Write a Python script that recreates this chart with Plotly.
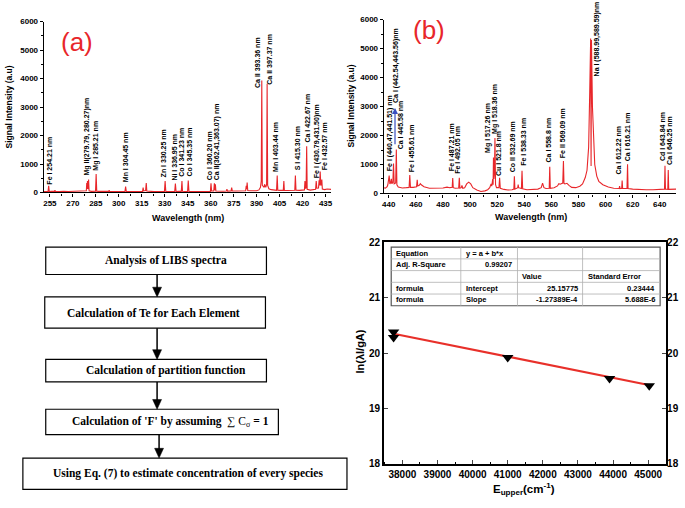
import plotly.graph_objects as go

# ---------------- data ----------------
# Panel (a) LIBS spectrum, 251-438.6 nm
wl_a = [
    251, 252.5, 253.8, 254.21, 254.6, 256, 258.0, 258.3, 258.6, 261,
    263.5, 263.8, 264.1, 267, 270, 273, 275.5, 276, 277.5, 278.8,
    279.08, 279.3, 279.55, 279.8, 280.0, 280.27, 280.6, 282, 284.8, 285.21,
    285.6, 287, 290, 293.4, 293.7, 294.0, 297, 300, 304.0, 304.45,
    304.9, 307, 310, 313, 315.5, 315.89, 316.2, 317.5, 317.93, 318.3,
    320, 323, 326, 329.8, 330.25, 330.7, 333, 336.5, 336.95, 337.4,
    339, 340.8, 341.23, 341.6, 343, 344.9, 345.35, 345.8, 348, 351,
    354, 357, 359.8, 360.2, 360.6, 362.0, 362.41, 362.75, 363.07, 363.4,
    366, 368, 370.2, 370.6, 371.0, 373.3, 373.7, 374.1, 377, 380,
    382.8, 383.2, 383.5, 383.8, 384.2, 386, 388, 390, 391.5, 392.5,
    393.0, 393.36, 393.7, 394.4, 394.9, 395.2, 396.0, 396.5, 396.85, 397.2,
    398, 399.5, 401, 403.0, 403.44, 403.8, 405.5, 407.4, 407.77, 408.1,
    410, 412, 414.9, 415.3, 415.7, 418, 420, 421.2, 421.55, 421.9,
    422.3, 422.67, 423.0, 425, 427, 428.5, 428.9, 429.3, 430.4, 430.79,
    431.1, 431.5, 431.9, 432.2, 432.57, 432.9, 434.5, 436, 438.6]
int_a = [
    30, 35, 30, 235, 30, 40, 40, 75, 40, 35,
    40, 60, 40, 35, 45, 40, 45, 60, 45, 60,
    330, 120, 400, 120, 140, 455, 60, 40, 45, 650,
    45, 40, 35, 40, 80, 40, 35, 30, 35, 205,
    35, 30, 35, 30, 40, 175, 60, 70, 335, 50,
    35, 30, 35, 35, 400, 35, 30, 35, 310, 35,
    40, 40, 400, 40, 35, 40, 420, 40, 35, 30,
    35, 35, 40, 320, 50, 50, 320, 80, 290, 50,
    40, 45, 50, 115, 50, 55, 170, 55, 50, 55,
    60, 230, 120, 345, 70, 60, 55, 60, 90, 180,
    400, 3930, 250, 200, 180, 290, 180, 280, 3815, 250,
    130, 100, 80, 75, 600, 80, 75, 75, 400, 75,
    70, 75, 80, 600, 80, 75, 80, 90, 400, 150,
    160, 1620, 110, 85, 85, 110, 400, 150, 160, 430,
    250, 740, 250, 280, 455, 120, 100, 120, 110]

# Panel (b) LIBS spectrum, 436.3-652 nm
wl_b = [
    436.3, 437.5, 438.8, 439.3, 440.3, 440.8, 441.4, 441.9, 442.3, 442.6,
    443.0, 443.5, 444.0, 445.1, 445.58, 446.0, 447, 450, 453, 455.0,
    455.5, 456.0, 458, 460.5, 461.0, 461.4, 462.5, 463.3, 464, 466,
    470, 475, 480, 483, 485, 486.8, 487.2, 487.6, 489, 491.6,
    492.05, 492.5, 493.5, 494, 494.6, 496, 497.5, 499, 500.5, 502,
    505, 508, 511, 513, 514.5, 515.5, 516.0, 516.7, 517.0, 517.26,
    517.6, 518.0, 518.36, 518.8, 519.5, 521.3, 521.8, 522.3, 525, 528,
    531, 532.3, 532.69, 533.1, 535.2, 535.5, 535.8, 537.9, 538.33, 538.8,
    542, 546, 550, 552.5, 553.5, 554.5, 556, 558.4, 558.8, 559.2,
    562, 564.5, 565.5, 566.5, 567.5, 568.4, 568.9, 569.3, 570, 571.5,
    573, 575, 578, 581, 583, 585, 586.3, 587.5, 588.3, 588.99,
    589.3, 589.59, 590.3, 591, 592, 593.5, 595, 598, 602, 606,
    610, 610.35, 610.7, 611.9, 612.22, 612.6, 615.8, 616.21, 616.6, 620,
    625, 630, 635, 640, 643.5, 643.84, 644.2, 645.9, 646.25, 646.6,
    649, 652]
int_b = [
    200, 180, 230, 300, 620, 330, 380, 505, 330, 400,
    350, 1035, 330, 360, 1520, 300, 220, 190, 200, 210,
    640, 210, 210, 230, 470, 260, 280, 340, 300, 230,
    180, 180, 190, 220, 200, 210, 530, 200, 180, 190,
    540, 180, 200, 280, 180, 200, 330, 390, 330, 200,
    120, 70, 90, 130, 200, 330, 250, 500, 300, 1240,
    500, 700, 1915, 300, 200, 200, 540, 180, 140, 120,
    130, 150, 590, 150, 200, 310, 200, 170, 780, 160,
    130, 150, 150, 200, 360, 200, 170, 180, 920, 180,
    200, 260, 340, 320, 330, 360, 1120, 350, 330, 350,
    280, 210, 200, 250, 330, 550, 800, 1600, 3500, 5350,
    950, 5300, 3000, 1800, 1000, 600, 420, 300, 220, 180,
    170, 250, 170, 180, 450, 170, 170, 1010, 170, 150,
    130, 130, 130, 140, 150, 960, 150, 140, 810, 140,
    150, 150]

# Peak labels
lab_a_text = ["Fe I 254.21 nm", "Mg II(279.79, 280.27)nm", "Mg I 285.21 nm",
              "Mn I 304.45 nm", "Zn I 330.25 nm", "Ni I 336.95 nm",
              "Co I 341.23 nm", "Co I 345.35 nm", "Co I 360.20 nm",
              "Ca II(362.41,363.07) nm", "Ca II 393.36 nm", "Ca II 397.37 nm",
              "Mn I 403.44 nm", "S I 415.30 nm", "Ca I 422.67 nm",
              "Fe I (430.79,431.50)nm", "Fe I 432.57 nm"]
lab_a_wl = [254.6, 279.4, 285.3, 304.3, 329.8, 336.7, 340.8, 345.9, 359.3,
            363.9, 390.1, 398.6, 401.9, 416.3, 423.0, 429.2, 434.5]
lab_a_int = [250, 570, 740, 340, 510, 365, 510, 510, 400,
             400, 3645, 3760, 683, 740, 1708, 455, 740]

lab_b_text = ["Fe I (440.47,441.51) nm", "Ca I (442.54,443.56)nm", "Ca I 445.58 nm",
              "Fe I 455.61 nm", "Fe I 487.21 nm", "Fe I 492.05 nm",
              "Mg I 517.26 nm", "Mg I 518.36 nm", "Cu I 521.8 nm",
              "Co II 532.69 nm", "Fe I 538.33 nm", "Ca I 558.8 nm",
              "Fe II 569.09 nm", "Na I (588.99,589.59)nm", "Ca I 612.22 nm",
              "Ca I 616.21 nm", "Cd I 643.84 nm", "Ca I 646.25 nm"]
lab_b_wl = [441.0, 445.2, 448.3, 456.9, 486.0, 490.8, 513.1, 517.9, 521.1,
            531.0, 538.8, 557.6, 568.7, 593.9, 609.8, 616.2, 641.9, 647.5]
lab_b_int = [740, 3100, 1472, 685, 740, 629, 1360, 2033, 573,
             685, 910, 1022, 1190, 4000, 629, 1078, 1078, 967]

# Boltzmann plot (c)
e_upper = [37750, 37750, 41000, 43900, 45030]
ln_val = [20.38, 20.28, 19.92, 19.54, 19.41]
fit_x = [37750, 45050]
fit_y = [20.35, 19.42]

table_rows = [
    ["Equation", "y = a + b*x", "", ""],
    ["Adj. R-Square", "0.99207", "", ""],
    ["", "", "Value", "Standard Error"],
    ["formula", "Intercept", "25.15775", "0.23444"],
    ["formula", "Slope", "-1.27389E-4", "5.688E-6"],
]

flow_steps = ["Analysis of LIBS spectra",
              "Calculation of Te for Each Element",
              "Calculation of partition function",
              "Calculation of 'F' by assuming  <span style='font-weight:normal'>∑ C<sub>σ</sub></span> = 1",
              "Using Eq. (7) to estimate concentration of every species"]

a_ticks = [255, 270, 285, 300, 315, 330, 345, 360, 375, 390, 405, 420, 435]
b_ticks = [440, 460, 480, 500, 520, 540, 560, 580, 600, 620, 640]
c_xticks = [38000, 39000, 40000, 41000, 42000, 43000, 44000, 45000]

# ---------------- figure ----------------
W, H = 685, 508
def px(x): return x / W
def py(y): return 1 - y / H

RED = "#e8262a"
SANS = "Liberation Sans"
SERIF = "Liberation Serif"
TF = dict(family=SANS, size=8, color="black", weight="bold")
TF10 = dict(family=SANS, size=10, color="black", weight="bold")

fig = go.Figure()
fig.add_trace(go.Scatter(x=wl_a, y=int_a, mode="lines", line=dict(color=RED, width=1.1),
                         xaxis="x", yaxis="y", hoverinfo="skip", showlegend=False))
fig.add_trace(go.Scatter(x=wl_b, y=int_b, mode="lines", line=dict(color=RED, width=1.1),
                         xaxis="x2", yaxis="y2", hoverinfo="skip", showlegend=False))
fig.add_trace(go.Scatter(x=fit_x, y=fit_y, mode="lines", line=dict(color="#e8302a", width=2.2),
                         xaxis="x3", yaxis="y3", hoverinfo="skip", showlegend=False))
fig.add_trace(go.Scatter(x=e_upper, y=ln_val, mode="markers",
                         marker=dict(symbol="triangle-down", size=10, color="black"),
                         xaxis="x3", yaxis="y3", hoverinfo="skip", showlegend=False))
fig.add_trace(go.Scatter(x=[e_upper[0]], y=[ln_val[0]], mode="markers", marker=dict(opacity=0),
                         xaxis="x3", yaxis="y4", hoverinfo="skip", showlegend=False))

axis_common = dict(showline=True, linecolor="black", linewidth=1.2, showgrid=False,
                   zeroline=False, tickfont=TF, tickcolor="black", tickwidth=1)

a_minor = [(a_ticks[i] + a_ticks[i + 1]) / 2 for i in range(len(a_ticks) - 1)]
b_minor = [(b_ticks[i] + b_ticks[i + 1]) / 2 for i in range(len(b_ticks) - 1)]
c_minor = [(c_xticks[i] + c_xticks[i + 1]) / 2 for i in range(len(c_xticks) - 1)] + [37500]

fig.update_layout(
    width=W, height=H, margin=dict(l=0, r=0, t=0, b=0),
    paper_bgcolor="white", plot_bgcolor="white", showlegend=False,
    xaxis=dict(domain=[px(42), px(331)], anchor="y", range=[251, 438.6],
               tickmode="array", tickvals=a_ticks, ticks="outside", ticklen=3,
               minor=dict(tickmode="array", tickvals=a_minor, ticks="outside", ticklen=2,
                          tickcolor="black"), **axis_common),
    yaxis=dict(domain=[py(191), py(16)], anchor="x", range=[0, 6000], dtick=1000,
               ticks="outside", ticklen=3,
               minor=dict(dtick=500, ticks="outside", ticklen=2, tickcolor="black"),
               **axis_common),
    xaxis2=dict(domain=[px(384), px(678)], anchor="y2", range=[436.3, 652],
                tickmode="array", tickvals=b_ticks, ticks="outside", ticklen=3,
                minor=dict(tickmode="array", tickvals=b_minor, ticks="outside", ticklen=2,
                           tickcolor="black"), **axis_common),
    yaxis2=dict(domain=[py(192), py(14)], anchor="x2", range=[0, 6000], dtick=1000,
                ticks="outside", ticklen=3,
                minor=dict(dtick=500, ticks="outside", ticklen=2, tickcolor="black"),
                **axis_common),
    xaxis3=dict(domain=[px(384), px(668)], anchor="y3", range=[37470, 45510],
                tickmode="array", tickvals=c_xticks, tickformat="d",
                ticks="inside", ticklen=4, mirror=True,
                minor=dict(tickmode="array", tickvals=c_minor, ticks="inside", ticklen=2,
                           tickcolor="black"),
                showline=True, linecolor="black", linewidth=1.5, showgrid=False, zeroline=False,
                tickfont=TF10),
    yaxis3=dict(domain=[py(469), py(242)], anchor="x3", range=[18, 22], dtick=1,
                ticks="inside", ticklen=4, mirror=True,
                showline=True, linecolor="black", linewidth=1.5, showgrid=False, zeroline=False,
                tickfont=TF10),
    yaxis4=dict(overlaying="y3", anchor="x3", side="right", range=[18, 22], dtick=1,
                ticks="inside", ticklen=4, showline=False, showgrid=False, zeroline=False,
                tickfont=TF10),
)

ann = []
shapes = []

def text(t, x, y, size, bold=True, family=SANS, color="black", angle=0,
         xa="center", ya="middle"):
    ann.append(dict(text=t, x=px(x), y=py(y), xref="paper", yref="paper",
                    xanchor=xa, yanchor=ya, showarrow=False, textangle=angle,
                    font=dict(family=family, size=size, color=color,
                              weight="bold" if bold else "normal")))

# panel letters
text("(a)", 75, 37, 26, bold=False, color=RED)
text("(b)", 430, 25, 26, bold=False, color=RED)
# axis titles
text("Signal Intensity (a.u)", 7, 103, 8.5, angle=-90)
text("Signal Intensity (a.u)", 351, 102, 8.5, angle=-90)
text("Wavelength (nm)", 187, 217, 9)
text("Wavelength (nm)", 532, 216, 9)
text("ln(λI/gA)", 360, 354, 11, angle=-90)
text("E<sub>upper</sub>(cm<sup>-1</sup>)", 525, 495, 11.5)

# peak labels
for t, xv, yv in zip(lab_a_text, lab_a_wl, lab_a_int):
    ann.append(dict(text=t, x=xv, y=yv, xref="x", yref="y", xanchor="center", yanchor="bottom",
                    showarrow=False, textangle=-90, borderpad=0,
                    font=dict(family=SANS, size=7, color="black", weight="bold")))
for t, xv, yv in zip(lab_b_text, lab_b_wl, lab_b_int):
    ann.append(dict(text=t, x=xv, y=yv, xref="x2", yref="y2", xanchor="center", yanchor="bottom",
                    showarrow=False, textangle=-90, borderpad=0,
                    font=dict(family=SANS, size=7, color="black", weight="bold")))
# blue arrow in (b)
ann.append(dict(text="", x=444.6, y=2950, xref="x2", yref="y2", ax=444.6, ay=1650,
                axref="x2", ayref="y2", showarrow=True, arrowhead=2, arrowsize=1,
                arrowwidth=1.2, arrowcolor="#3a4fc0"))

# table
col_x = [391.5, 461.5, 518.5, 584, 662]
row_y = [247, 259, 271, 283, 295, 307]
shapes.append(dict(type="rect", xref="paper", yref="paper", x0=px(col_x[0]), x1=px(col_x[-1]),
                   y0=py(row_y[-1]), y1=py(row_y[0]), fillcolor="white",
                   line=dict(color="#555555", width=1.2), layer="above"))
for cx in col_x[1:-1]:
    shapes.append(dict(type="line", xref="paper", yref="paper", x0=px(cx), x1=px(cx),
                       y0=py(row_y[-1]), y1=py(row_y[0]), line=dict(color="#b0b0b0", width=0.8)))
for ry in row_y[1:-1]:
    shapes.append(dict(type="line", xref="paper", yref="paper", x0=px(col_x[0]), x1=px(col_x[-1]),
                       y0=py(ry), y1=py(ry), line=dict(color="#b0b0b0", width=0.8)))
right_cells = {(1, 1), (3, 2), (3, 3), (4, 2), (4, 3)}
for r, row in enumerate(table_rows):
    yc = (row_y[r] + row_y[r + 1]) / 2
    for c, cell in enumerate(row):
        if not cell:
            continue
        if (r, c) in right_cells:
            text(cell, col_x[c + 1] - 3, yc, 7.5, xa="right")
        else:
            text(cell, col_x[c] + 3, yc, 7.5, xa="left")

# flowchart
boxes = [(44, 247, 266, 275), (43, 298, 265, 330), (44, 362, 266, 385),
         (44, 413, 278, 439), (21, 463, 347, 495)]
text_cx = [164.5, 152.5, 164.5, 169.5, 187.5]
for (x0, y0, x1, y1), t, cx in zip(boxes, flow_steps, text_cx):
    shapes.append(dict(type="rect", xref="paper", yref="paper", x0=px(x0), x1=px(x1),
                       y0=py(y1), y1=py(y0), line=dict(color="black", width=1.2)))
    text(t, cx, (y0 + y1) / 2, 11.5, family=SERIF)
arrow_x = [156, 156, 156, 158]
for i, ax_ in enumerate(arrow_x):
    ytop = boxes[i][3]
    ybot = boxes[i + 1][1]
    shapes.append(dict(type="line", xref="paper", yref="paper", x0=px(ax_), x1=px(ax_),
                       y0=py(ytop), y1=py(ybot - 8), line=dict(color="black", width=1.5)))
    path = "M {} {} L {} {} L {} {} Z".format(px(ax_ - 4.5), py(ybot - 10), px(ax_ + 4.5),
                                            py(ybot - 10), px(ax_), py(ybot))
    shapes.append(dict(type="path", xref="paper", yref="paper", path=path,
                       fillcolor="black", line=dict(color="black", width=0.5)))

fig.update_layout(annotations=ann, shapes=shapes)
fig.write_html("out.html")
